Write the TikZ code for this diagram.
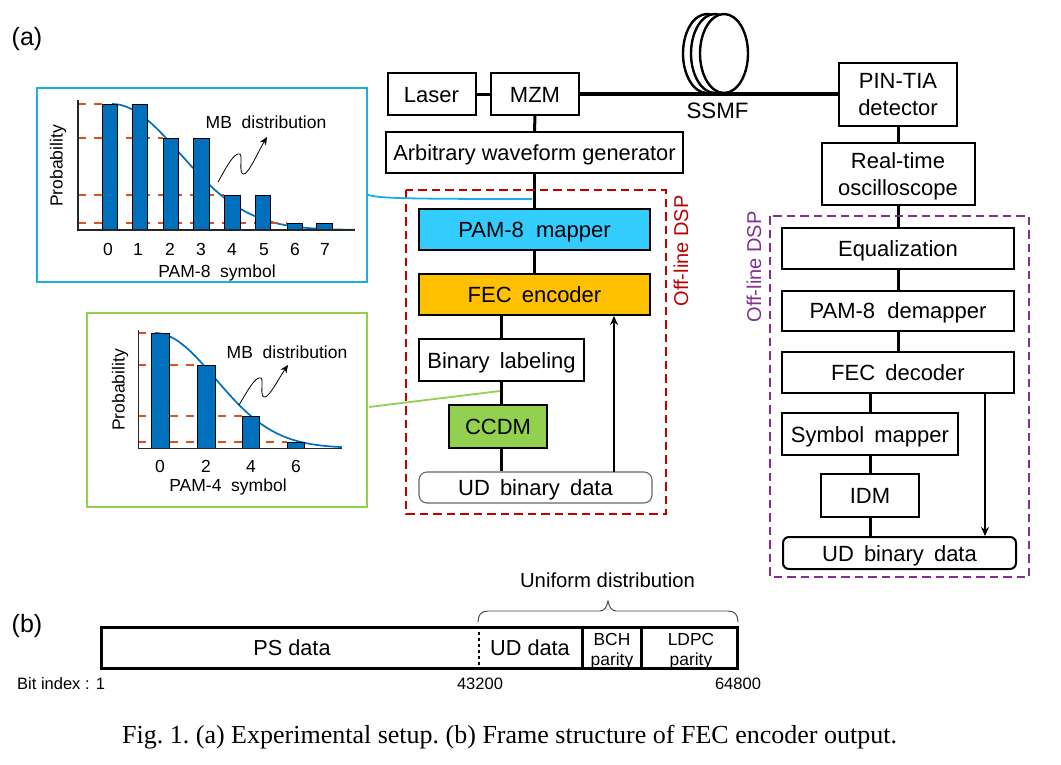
\documentclass[tikz,border=0pt]{standalone}
\usepackage{fontspec}
\setmainfont{Liberation Sans}
\newfontfamily\capfont{Liberation Serif}
\usetikzlibrary{arrows.meta,shapes.geometric}
\definecolor{pskyblue}{HTML}{33CCFF}
\definecolor{pamber}{HTML}{FFC000}
\definecolor{pgreen}{HTML}{92D050}
\definecolor{pframeb}{HTML}{1CADE4}
\definecolor{pbar}{HTML}{0070BC}
\definecolor{pdash}{HTML}{D9531E}
\definecolor{pred}{HTML}{C00000}
\definecolor{ppurple}{HTML}{80308F}
\newcommand{\wgap}{\hspace{4pt}}
\tikzstyle{twoline}=[draw,line width=2pt,inner sep=0pt,align=center,text depth=0pt,font=\fontsize{22}{27}\selectfont]
\tikzstyle{blockbox}=[draw,line width=2pt,inner sep=0pt,align=center,text height=20pt,text depth=4pt,font=\fontsize{22}{27}\selectfont]
\tikzstyle{udbox}=[blockbox,rounded corners=6pt]
\tikzstyle{link}=[line width=3pt]
\tikzstyle{upline}=[-{Stealth[length=9pt,width=8pt]},line width=2.6pt]
\tikzstyle{fibre}=[line width=2.4pt,draw,fill=white,ellipse,minimum width=48pt,minimum height=79pt,inner sep=0pt]
\tikzstyle{dsprect}=[dash pattern=on 8.5pt off 5pt,line width=2pt]
\tikzstyle{dsplab}=[rotate=90,inner sep=0pt,font=\fontsize{20}{22}\selectfont]
\tikzstyle{barbox}=[draw=black,fill=pbar,line width=1pt]
\tikzstyle{hdash}=[pdash,line width=1.5pt,dash pattern=on 8pt off 8pt]
\tikzstyle{mbcurve}=[pbar,line width=1.7pt,smooth]
\tikzstyle{squig}=[-{Stealth[length=8pt,width=7pt]},line width=0.8pt]
\tikzstyle{small}=[inner sep=0pt,anchor=base,font=\fontsize{17.5}{20}\selectfont]
\tikzstyle{tinyl}=[inner sep=0pt,anchor=base,font=\fontsize{16.5}{20}\selectfont]
\tikzstyle{framet}=[inner sep=0pt,anchor=base,font=\fontsize{21.7}{24}\selectfont]
\tikzstyle{parityl}=[inner sep=0pt,anchor=base,font=\fontsize{17.4}{20}\selectfont]
\tikzstyle{partl}=[inner sep=0pt,anchor=base,font=\fontsize{25}{27}\selectfont]

\begin{document}
\begin{tikzpicture}[x=1pt,y=-1pt]
    \useasboundingbox (0,0) rectangle (1061,764);
    \node[partl] (laba) at (27,45) {(a)};
    \node[partl] (labb) at (27,632) {(b)};

    % transmitter
    \node[blockbox,minimum width=88pt,minimum height=42pt] (laser) at (431.5,94) {Laser};
    \node[blockbox,minimum width=88pt,minimum height=42pt] (mzm) at (535,94) {MZM};
    \node[blockbox,minimum width=297pt,minimum height=41pt,font=\fontsize{21.8}{27}\selectfont] (awg) at (534.5,152.5) {Arbitrary waveform generator};
    \node[blockbox,fill=pskyblue,minimum width=231pt,minimum height=41pt] (mapper) at (534.5,229.5) {PAM-8~ mapper};
    \node[blockbox,fill=pamber,minimum width=231pt,minimum height=41pt] (fecenc) at (534.5,294.5) {FEC\wgap{} encoder};
    \node[blockbox,minimum width=165pt,minimum height=42pt] (binlab) at (501.5,360) {Binary\wgap{} labeling};
    \node[blockbox,fill=pgreen,minimum width=98pt,minimum height=43pt] (ccdm) at (498,426) {CCDM};
    \node[udbox,draw=black!60,line width=1.1pt,rounded corners=8pt,minimum width=233pt,minimum height=31pt] (udtx) at (535.5,487.5) {UD\wgap{} binary\wgap{} data};

    % receiver
    \node[twoline,minimum width=118pt,minimum height=63pt] (pin) at (898,94) {PIN-TIA\\detector};
    \node[twoline,minimum width=153pt,minimum height=62pt] (scope) at (898,174) {Real-time\\oscilloscope};
    \node[blockbox,minimum width=232pt,minimum height=41pt] (eq) at (898,248.5) {Equalization};
    \node[blockbox,minimum width=232pt,minimum height=40pt] (demap) at (898,310.5) {PAM-8~ demapper};
    \node[blockbox,minimum width=232pt,minimum height=41pt] (fecdec) at (898,372.5) {FEC\wgap{} decoder};
    \node[blockbox,minimum width=176pt,minimum height=42pt] (symmap) at (870,434) {Symbol\wgap{} mapper};
    \node[blockbox,minimum width=98pt,minimum height=43pt] (idm) at (870,495.5) {IDM};
    \node[udbox,minimum width=233pt,minimum height=32pt] (udrx) at (899.5,553) {UD\wgap{} binary\wgap{} data};

    % fibre spool
    \node[fibre] (ring1) at (707,53.5) {};
    \node[fibre] (ring2) at (715,53.5) {};
    \node[fibre] (ring3) at (724,53.5) {};
    \node[inner sep=0pt,anchor=base,font=\fontsize{22.3}{24}\selectfont] (ssmf) at (717.5,118) {SSMF};

    \draw[line width=3.3pt] (mzm.east) -- (pin.west);
    \draw[link] (laser.east) -- (mzm.west);
    \foreach \from/\to in {mzm/awg,awg/mapper,mapper/fecenc,pin/scope,scope/eq,eq/demap,demap/fecdec,symmap/idm}
    \draw[link] (\from.south) -- (\to.north);
    \draw[link] (binlab.north) -- (binlab.north |- fecenc.south);
    \draw[link] (binlab.south) -- (binlab.south |- ccdm.north);
    \draw[link] (binlab.south |- ccdm.south) -- (binlab.south |- udtx.north);
    \draw[link] (symmap.north |- fecdec.south) -- (symmap.north);
    \draw[link] (idm.south) -- (idm.south |- udrx.north);
    \coordinate (uptx) at (614,472);
    \coordinate (uprx) at (985,393);
    \draw[upline] (uptx) -- (uptx |- fecenc.south);
    \draw[upline] (uprx) -- (uprx |- udrx.north);

    % DSP frames
    \draw[dsprect,pred] (406,190) rectangle (666,514);
    \draw[dsprect,ppurple] (770,216) rectangle (1029,577);
    \node[dsplab,text=pred] (dsptx) at (681,251) {Off-line DSP};
    \node[dsplab,text=ppurple] (dsprx) at (754,267) {Off-line DSP};

    % PAM-8 inset
    \draw[pframeb,line width=2.4pt] (37,88) rectangle (367,282);
    \coordinate (tapb1) at (368,195);
    \coordinate (tapb2) at (532,199);
    \draw[pframeb,line width=1.8pt] (tapb1) .. controls (380,198) and (395,199) .. (tapb2);
    \draw[mbcurve,domain=112:355,samples=50] plot (\x,{230-126*exp(-((\x-112)/68)^2/2)});
    \foreach \yy/\xe in {104/102,138/163,195/224,223/287}
    \draw[hdash] (78,\yy) -- (\xe,\yy);
    \foreach \bl/\br/\bt in {102/117/104,132/147/104,163/178/138,193/209/138,224/240/195,255/270/195,287/302/223,316/332/223}
    \draw[barbox] (\bl,230) rectangle (\br,\bt);
    \draw[line width=1.5pt,black!85] (78,100) -- (78,230) -- (355,230);
    \foreach \xx/\lab in {108/0,138/1,170/2,201/3,232/4,264/5,295/6,325/7}
    \node[small] at (\xx,255) {\lab};
    \node[small] (sym8) at (217,277) {PAM-8~ symbol};
    \node[small,anchor=center,rotate=90] (prob8) at (58,166) {Probability};
    \node[small] (mb8) at (266,128) {MB~ distribution};
    \coordinate (mbs8) at (218,182);
    \coordinate (mbe8) at (267,137);
    \draw[squig] (mbs8) .. controls (226,168) and (234,152) .. (240,154) .. controls (243,156) and (238,175) .. (244,174) .. controls (249,173) and (258,152) .. (mbe8);

    % PAM-4 inset
    \draw[pgreen,line width=2.4pt] (87,313) rectangle (367,507);
    \coordinate (tapg1) at (369,407);
    \coordinate (tapg2) at (500,391);
    \draw[pgreen,line width=1.8pt] (tapg1) -- (tapg2);
    \draw[mbcurve,domain=155:342,samples=50] plot (\x,{448-115*exp(-((\x-155)/60)^2/2)});
    \foreach \yy/\xe in {333/151,365/197,416/242,442/287}
    \draw[hdash] (138,\yy) -- (\xe,\yy);
    \foreach \bl/\br/\bt in {151/169/333,197/215/365,242/259/416,287/304/442}
    \draw[barbox] (\bl,448) rectangle (\br,\bt);
    \draw[line width=1pt,black!85] (138,330) -- (138,448) -- (342,448);
    \foreach \xx/\lab in {160/0,206/2,251/4,296/6}
    \node[small] at (\xx,472) {\lab};
    \node[small] (sym4) at (228,491) {PAM-4~ symbol};
    \node[small,anchor=center,rotate=90] (prob4) at (120,390) {Probability};
    \node[small] (mb4) at (287,358) {MB~ distribution};
    \coordinate (mbs4) at (239,405);
    \coordinate (mbe4) at (288,365);
    \draw[squig] (mbs4) .. controls (247,392) and (255,376) .. (261,378) .. controls (264,380) and (259,398) .. (265,397) .. controls (270,396) and (279,378) .. (mbe4);

    % frame structure
    \node[draw,line width=3pt,minimum width=636pt,minimum height=41.5pt,inner sep=0pt] (frame) at (419.5,647.75) {};
    \coordinate (cutud) at (479,648);
    \coordinate (cutbch) at (582,648);
    \coordinate (cutldpc) at (641,648);
    \draw[line width=2.6pt,dash pattern=on 3pt off 3pt] (cutud |- frame.north) -- (cutud |- frame.south);
    \draw[line width=3pt] (cutbch |- frame.north) -- (cutbch |- frame.south);
    \draw[line width=3pt] (cutldpc |- frame.north) -- (cutldpc |- frame.south);
    \node[framet] (psdata) at (292,655) {PS data};
    \node[framet] (uddata) at (530,655) {UD data};
    \node[parityl] (bch) at (612,645) {BCH};
    \node[parityl] (bchp) at (612,665) {parity};
    \node[parityl] (ldpc) at (691,645) {LDPC};
    \node[parityl] (ldpcp) at (691,665) {parity};
    \draw[black!75,line width=0.9pt] (478,622) .. controls (478,615) and (481,611) .. (488,611) -- (600,611) .. controls (604,611) and (607,607) .. (608,601) .. controls (609,607) and (612,611) .. (616,611) -- (728,611) .. controls (735,611) and (738,615) .. (738,622);
    \node[inner sep=0pt,anchor=base,font=\fontsize{20.3}{22}\selectfont] (unif) at (607.5,587) {Uniform distribution};
    \node[tinyl,anchor=base west] (bit1) at (17,689) {Bit index : 1};
    \node[tinyl] (bit2) at (480,689) {43200};
    \node[tinyl] (bit3) at (738,689) {64800};

    % caption
    \node[inner sep=0pt,anchor=base west,font=\capfont\fontsize{26}{28}\selectfont] (figcap) at (122,743) {\frenchspacing Fig. 1. (a) Experimental setup. (b) Frame structure of FEC encoder output.};
\end{tikzpicture}
\end{document}
